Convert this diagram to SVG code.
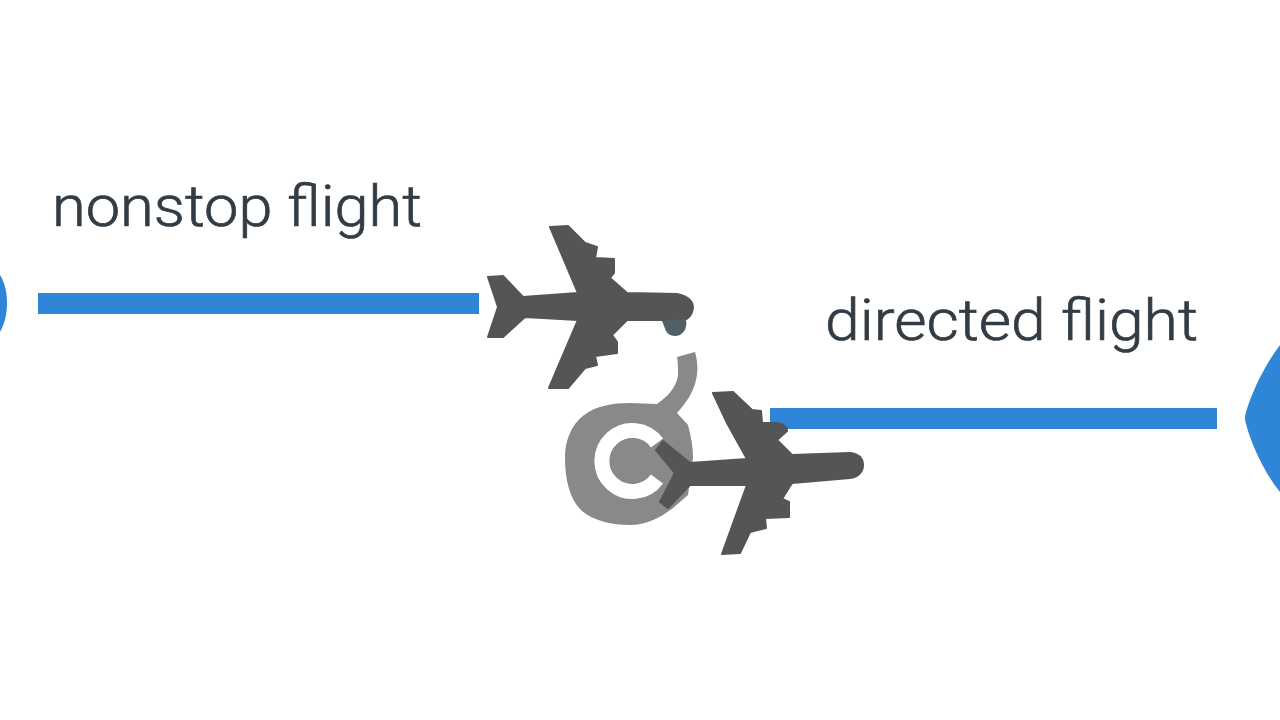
<svg xmlns="http://www.w3.org/2000/svg" width="1280" height="720" viewBox="0 0 1280 720">
<style>
.label{font-family:"Roboto","Liberation Sans",sans-serif;font-weight:300;font-size:57px;fill:#333c44;stroke:#333c44;stroke-width:0.7}
.blue{fill:#2f86d8}
.plane{fill:#555556;stroke:#555556;stroke-width:2;stroke-linejoin:round}
</style>
<rect width="1280" height="720" fill="#ffffff"/>
<g id="connectors">
<rect class="blue" x="38" y="293" width="441" height="21"/>
<rect class="blue" x="770" y="408" width="447" height="21"/>
</g>
<g id="node-origin"><path class="blue" d="M0 275C5 283 7 293 7 303C7 313 5 323 0 332Z"/></g>
<g id="node-destination"><path class="blue" d="M1280 345C1264 366 1252 392 1246 412Q1244 418 1246 424C1252 446 1264 472 1280 492Z"/></g>
<g id="label-nonstop"><text class="label" x="52" y="226" textLength="370" lengthAdjust="spacingAndGlyphs">nonstop flight</text></g>
<g id="label-directed"><text class="label" x="825" y="340" textLength="373" lengthAdjust="spacingAndGlyphs">directed flight</text></g>
<g id="connection-symbol">
<path fill="#87898b" d="M677 357L695 352C698 362 698 372 696 380C693 393 686 403 677 413L688 425C691 436 693 447 693 458L688 495L673 508C660 518 646 525 630 525C612 525 594 521 582 511C570 500 565 480 565 458C565 442 570 426 584 415C596 406 612 403 630 403L657 404C667 397 676 388 678 376C678 369 678 363 677 357Z"/>
<path fill="none" stroke="#ffffff" stroke-width="15" d="M657 443A30.500 30.500 0 1 0 657 479"/>
</g>
<g id="plane-nonstop">
<path class="plane" d="M550 227L568 226L585 243L597 247L595 258L614 259L614 273L610 278L627 293L677 294C687 296 693 301 693 308C692 315 688 319 683 320L627 320L612 335L617 342L617 353L595 356L597 365L585 368L568 388L549 388L578 320L525 317L503 337L488 337L498 307L488 277L503 276L523 297L578 293Z"/>
<path fill="#4f6066" d="M662 321L686 319Q688 330 680 335Q670 338 666 331Z"/>
</g>
<g id="plane-directed">
<path class="plane" d="M713 393L733 392L752 410L761 411L762 423L777 423C783 424 787 427 787 431L777 440L792 455L850 453C858 454 863 458 863 465C863 472 858 477 850 478L792 483L782 499L789 502L789 517L765 518L766 528L750 532L740 553L722 554L747 485L690 485L668 508L660 502L675 473L656 450L663 441L690 463L747 459L727 423Z"/>
</g>
</svg>
